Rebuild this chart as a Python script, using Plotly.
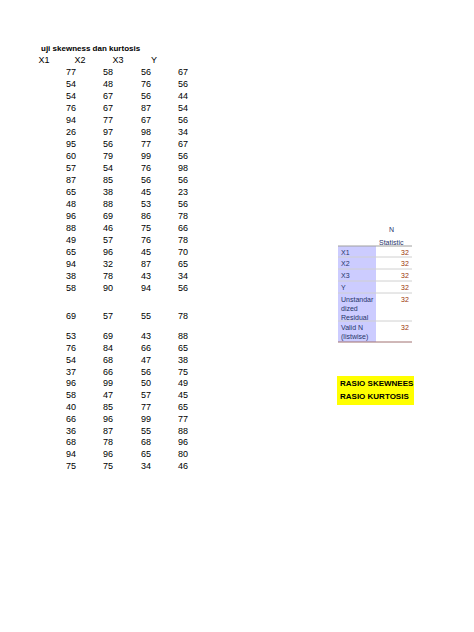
import plotly.graph_objects as go

X1 = [77,54,54,76,94,26,95,60,57,87,65,48,96,88,49,65,94,38,58,69,53,76,54,37,96,58,40,66,36,68,94,75]
X2 = [58,48,67,67,77,97,56,79,54,85,38,88,69,46,57,96,32,78,90,57,69,84,68,66,99,47,85,96,87,78,96,75]
X3 = [56,76,56,87,67,98,77,99,76,56,45,53,86,75,76,45,87,43,94,55,43,66,47,56,50,57,77,99,55,68,65,34]
Y  = [67,56,44,54,56,34,67,56,98,56,23,56,78,66,78,70,65,34,56,78,88,65,38,75,49,45,65,77,88,96,80,46]
headers = ["X1", "X2", "X3", "Y"]
table_labels = ["X1", "X2", "X3", "Y", "Unstandar<br>dized<br>Residual", "Valid N<br>(listwise)"]
table_values = [32, 32, 32, 32, 32, 32]
ratio_labels = ["RASIO SKEWNEES", "RASIO KURTOSIS"]

def row_y(i):
    if i < 19:
        return 73 + i * 12.0
    if i == 19:
        return 317
    return 337 + (i - 20) * 11.8

fig = go.Figure()
col_x = [71, 108, 146, 183]
series = [X1, X2, X3, Y]
font = dict(family="Liberation Sans Narrow, Liberation Sans", size=9, color="black")
for cx, s in zip(col_x, series):
    fig.add_trace(go.Scatter(x=[cx]*len(s), y=[row_y(i) for i in range(len(s))],
                             text=[str(v) for v in s], mode="text",
                             textfont=font, hoverinfo="skip", showlegend=False))
fig.add_trace(go.Scatter(x=[44, 80, 118, 154], y=[61]*4, text=headers, mode="text",
                         textfont=font, hoverinfo="skip", showlegend=False))

shapes = []
annotations = [dict(x=39, y=48, text="<b>uji skewness dan kurtosis</b>", showarrow=False,
                    xanchor="left", font=dict(family="Liberation Sans", size=8, color="black"))]
annotations += [dict(x=391, y=229, text="N", showarrow=False, font=dict(family="Liberation Sans", size=7, color="#26346b")),
                dict(x=391, y=242, text="Statistic", showarrow=False, font=dict(family="Liberation Sans", size=7, color="#26346b"))]
bounds = [246, 257, 269, 281, 293, 321, 342]
for i, lab in enumerate(table_labels):
    y0, y1 = bounds[i], bounds[i+1]
    shapes.append(dict(type="rect", x0=338, x1=376, y0=y0, y1=y1, fillcolor="#ccccff", line=dict(width=0), layer="below"))
    shapes.append(dict(type="line", x0=338, x1=412, y0=y1, y1=y1,
                       line=dict(color="#a07070" if i == len(table_labels)-1 else "#d0d0d0", width=1)))
    annotations.append(dict(x=339, y=y0+1, text=lab, showarrow=False, xanchor="left", yanchor="top", align="left",
                            font=dict(family="Liberation Sans", size=7, color="#26346b")))
    annotations.append(dict(x=411, y=y0+1, text=str(table_values[i]), showarrow=False, xanchor="right", yanchor="top",
                            font=dict(family="Liberation Sans", size=7, color="#993300")))
shapes.append(dict(type="line", x0=338, x1=412, y0=246, y1=246, line=dict(color="#a0a0a0", width=1)))
shapes.append(dict(type="rect", x0=337, x1=414, y0=376, y1=405, fillcolor="#ffff00", line=dict(width=0), layer="below"))
for j, lab in enumerate(ratio_labels):
    annotations.append(dict(x=338, y=383 + j*13, text="<b>"+lab+"</b>", showarrow=False, xanchor="left",
                            font=dict(family="Liberation Sans Narrow, Liberation Sans", size=8, color="black")))

fig.update_layout(width=474, height=632, margin=dict(l=0, r=0, t=0, b=0),
                  plot_bgcolor="white", paper_bgcolor="white",
                  xaxis=dict(range=[8, 482], visible=False, fixedrange=True),
                  yaxis=dict(range=[640, 8], visible=False, fixedrange=True),
                  shapes=shapes, annotations=annotations)
fig.write_html("out.html")
